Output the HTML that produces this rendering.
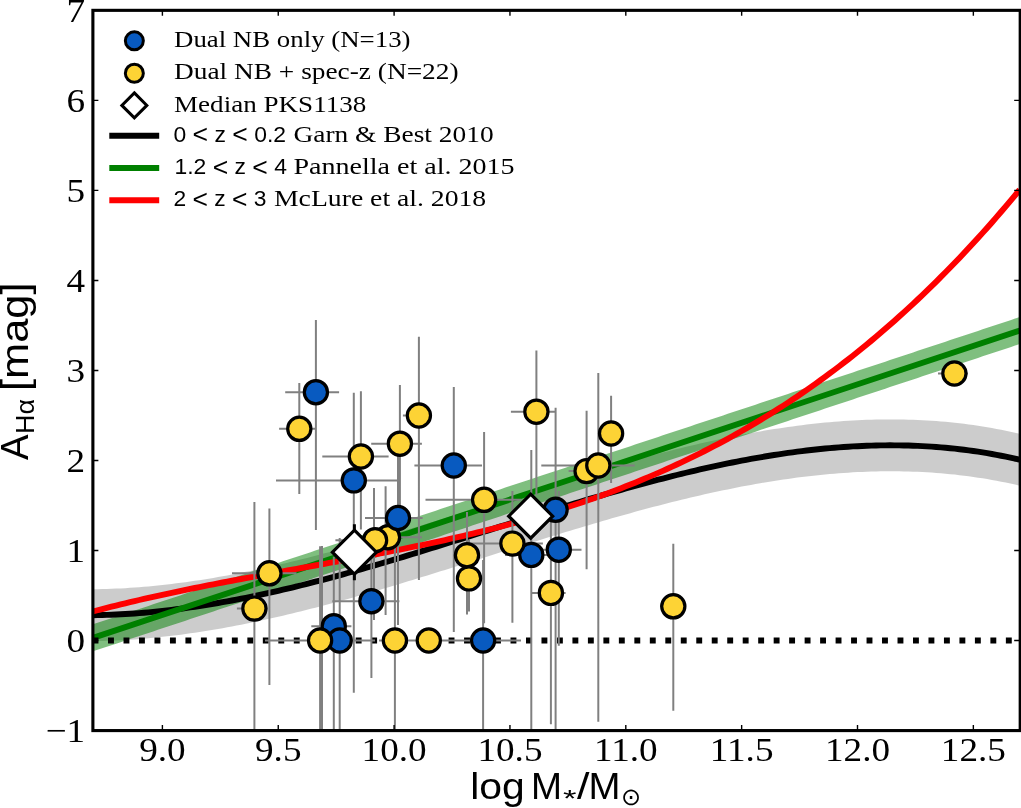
<!DOCTYPE html><html><head><meta charset="utf-8"><style>html,body{margin:0;padding:0;background:#fff;width:1021px;height:808px;overflow:hidden}svg{display:block;will-change:transform}</style></head><body><svg width="1021" height="808" viewBox="0 0 1021 808">
<defs><clipPath id="ax"><rect x="92.89" y="10.34" width="926.80" height="720.24"/></clipPath></defs>
<rect width="100%" height="100%" fill="#fff"/>
<g clip-path="url(#ax)">
<path d="M92.89,589.27 L97.52,589.20 L102.16,589.10 L106.79,588.97 L111.43,588.81 L116.06,588.61 L120.69,588.38 L125.33,588.13 L129.96,587.84 L134.60,587.52 L139.23,587.17 L143.86,586.80 L148.50,586.39 L153.13,585.95 L157.77,585.49 L162.40,585.00 L167.03,584.48 L171.67,583.94 L176.30,583.37 L180.94,582.77 L185.57,582.15 L190.20,581.50 L194.84,580.82 L199.47,580.13 L204.11,579.40 L208.74,578.66 L213.37,577.89 L218.01,577.09 L222.64,576.28 L227.28,575.44 L231.91,574.58 L236.54,573.70 L241.18,572.79 L245.81,571.87 L250.45,570.93 L255.08,569.96 L259.71,568.98 L264.35,567.98 L268.98,566.96 L273.62,565.92 L278.25,564.86 L282.88,563.78 L287.52,562.69 L292.15,561.58 L296.79,560.45 L301.42,559.31 L306.05,558.15 L310.69,556.98 L315.32,555.79 L319.96,554.59 L324.59,553.37 L329.22,552.14 L333.86,550.90 L338.49,549.64 L343.13,548.37 L347.76,547.09 L352.39,545.79 L357.03,544.49 L361.66,543.17 L366.30,541.85 L370.93,540.51 L375.56,539.16 L380.20,537.81 L384.83,536.44 L389.47,535.07 L394.10,533.68 L398.73,532.29 L403.37,530.90 L408.00,529.49 L412.64,528.08 L417.27,526.66 L421.90,525.24 L426.54,523.81 L431.17,522.37 L435.81,520.93 L440.44,519.49 L445.07,518.04 L449.71,516.59 L454.34,515.13 L458.98,513.68 L463.61,512.21 L468.24,510.75 L472.88,509.29 L477.51,507.82 L482.15,506.36 L486.78,504.89 L491.41,503.42 L496.05,501.96 L500.68,500.49 L505.32,499.02 L509.95,497.56 L514.58,496.10 L519.22,494.64 L523.85,493.18 L528.49,491.73 L533.12,490.28 L537.75,488.83 L542.39,487.39 L547.02,485.95 L551.66,484.51 L556.29,483.08 L560.92,481.66 L565.56,480.25 L570.19,478.84 L574.83,477.43 L579.46,476.04 L584.09,474.65 L588.73,473.27 L593.36,471.90 L598.00,470.53 L602.63,469.18 L607.26,467.83 L611.90,466.50 L616.53,465.18 L621.17,463.86 L625.80,462.56 L630.43,461.27 L635.07,459.99 L639.70,458.73 L644.34,457.47 L648.97,456.23 L653.60,455.00 L658.24,453.79 L662.87,452.59 L667.51,451.41 L672.14,450.24 L676.77,449.08 L681.41,447.95 L686.04,446.82 L690.68,445.72 L695.31,444.63 L699.94,443.56 L704.58,442.51 L709.21,441.47 L713.85,440.45 L718.48,439.46 L723.11,438.48 L727.75,437.52 L732.38,436.58 L737.02,435.66 L741.65,434.76 L746.28,433.89 L750.92,433.03 L755.55,432.20 L760.19,431.39 L764.82,430.60 L769.45,429.84 L774.09,429.10 L778.72,428.38 L783.36,427.69 L787.99,427.02 L792.62,426.38 L797.26,425.76 L801.89,425.17 L806.53,424.61 L811.16,424.07 L815.79,423.56 L820.43,423.08 L825.06,422.62 L829.70,422.19 L834.33,421.80 L838.96,421.43 L843.60,421.09 L848.23,420.78 L852.87,420.50 L857.50,420.25 L862.13,420.03 L866.77,419.84 L871.40,419.69 L876.04,419.56 L880.67,419.47 L885.30,419.41 L889.94,419.39 L894.57,419.40 L899.21,419.44 L903.84,419.52 L908.47,419.63 L913.11,419.78 L917.74,419.96 L922.38,420.18 L927.01,420.44 L931.64,420.73 L936.28,421.06 L940.91,421.43 L945.55,421.83 L950.18,422.28 L954.81,422.76 L959.45,423.28 L964.08,423.84 L968.72,424.44 L973.35,425.09 L977.98,425.77 L982.62,426.49 L987.25,427.26 L991.89,428.06 L996.52,428.91 L1001.15,429.80 L1005.79,430.74 L1010.42,431.71 L1015.06,432.74 L1019.69,433.80 L1019.69,485.66 L1015.06,484.59 L1010.42,483.57 L1005.79,482.59 L1001.15,481.66 L996.52,480.77 L991.89,479.92 L987.25,479.11 L982.62,478.35 L977.98,477.63 L973.35,476.94 L968.72,476.30 L964.08,475.70 L959.45,475.14 L954.81,474.62 L950.18,474.13 L945.55,473.69 L940.91,473.29 L936.28,472.92 L931.64,472.59 L927.01,472.30 L922.38,472.04 L917.74,471.82 L913.11,471.64 L908.47,471.49 L903.84,471.38 L899.21,471.30 L894.57,471.26 L889.94,471.25 L885.30,471.27 L880.67,471.33 L876.04,471.42 L871.40,471.54 L866.77,471.70 L862.13,471.89 L857.50,472.10 L852.87,472.35 L848.23,472.63 L843.60,472.94 L838.96,473.28 L834.33,473.65 L829.70,474.05 L825.06,474.48 L820.43,474.93 L815.79,475.42 L811.16,475.93 L806.53,476.47 L801.89,477.03 L797.26,477.62 L792.62,478.24 L787.99,478.88 L783.36,479.55 L778.72,480.24 L774.09,480.96 L769.45,481.70 L764.82,482.46 L760.19,483.25 L755.55,484.06 L750.92,484.89 L746.28,485.75 L741.65,486.62 L737.02,487.52 L732.38,488.44 L727.75,489.38 L723.11,490.33 L718.48,491.31 L713.85,492.31 L709.21,493.33 L704.58,494.36 L699.94,495.42 L695.31,496.49 L690.68,497.58 L686.04,498.68 L681.41,499.80 L676.77,500.94 L672.14,502.09 L667.51,503.26 L662.87,504.45 L658.24,505.65 L653.60,506.86 L648.97,508.09 L644.34,509.33 L639.70,510.58 L635.07,511.85 L630.43,513.13 L625.80,514.42 L621.17,515.72 L616.53,517.03 L611.90,518.36 L607.26,519.69 L602.63,521.04 L598.00,522.39 L593.36,523.75 L588.73,525.13 L584.09,526.51 L579.46,527.89 L574.83,529.29 L570.19,530.69 L565.56,532.10 L560.92,533.52 L556.29,534.94 L551.66,536.37 L547.02,537.80 L542.39,539.24 L537.75,540.69 L533.12,542.13 L528.49,543.58 L523.85,545.04 L519.22,546.50 L514.58,547.96 L509.95,549.42 L505.32,550.88 L500.68,552.35 L496.05,553.81 L491.41,555.28 L486.78,556.75 L482.15,558.21 L477.51,559.68 L472.88,561.15 L468.24,562.61 L463.61,564.07 L458.98,565.53 L454.34,566.99 L449.71,568.45 L445.07,569.90 L440.44,571.35 L435.81,572.79 L431.17,574.23 L426.54,575.66 L421.90,577.09 L417.27,578.52 L412.64,579.94 L408.00,581.35 L403.37,582.75 L398.73,584.15 L394.10,585.54 L389.47,586.92 L384.83,588.30 L380.20,589.66 L375.56,591.02 L370.93,592.37 L366.30,593.70 L361.66,595.03 L357.03,596.35 L352.39,597.65 L347.76,598.95 L343.13,600.23 L338.49,601.50 L333.86,602.75 L329.22,604.00 L324.59,605.23 L319.96,606.45 L315.32,607.65 L310.69,608.84 L306.05,610.01 L301.42,611.17 L296.79,612.31 L292.15,613.44 L287.52,614.55 L282.88,615.64 L278.25,616.71 L273.62,617.77 L268.98,618.81 L264.35,619.83 L259.71,620.84 L255.08,621.82 L250.45,622.78 L245.81,623.73 L241.18,624.65 L236.54,625.55 L231.91,626.44 L227.28,627.30 L222.64,628.13 L218.01,628.95 L213.37,629.74 L208.74,630.51 L204.11,631.26 L199.47,631.98 L194.84,632.68 L190.20,633.36 L185.57,634.00 L180.94,634.63 L176.30,635.22 L171.67,635.80 L167.03,636.34 L162.40,636.86 L157.77,637.35 L153.13,637.81 L148.50,638.25 L143.86,638.65 L139.23,639.03 L134.60,639.38 L129.96,639.70 L125.33,639.98 L120.69,640.24 L116.06,640.47 L111.43,640.66 L106.79,640.83 L102.16,640.96 L97.52,641.06 L92.89,641.12 Z" fill="#808080" fill-opacity="0.4"/>
<path d="M92.89,624.34 L97.52,622.81 L102.16,621.27 L106.79,619.74 L111.43,618.20 L116.06,616.66 L120.69,615.13 L125.33,613.59 L129.96,612.05 L134.60,610.52 L139.23,608.98 L143.86,607.44 L148.50,605.91 L153.13,604.37 L157.77,602.84 L162.40,601.30 L167.03,599.76 L171.67,598.23 L176.30,596.69 L180.94,595.15 L185.57,593.62 L190.20,592.08 L194.84,590.54 L199.47,589.01 L204.11,587.47 L208.74,585.94 L213.37,584.40 L218.01,582.86 L222.64,581.33 L227.28,579.79 L231.91,578.25 L236.54,576.72 L241.18,575.18 L245.81,573.64 L250.45,572.11 L255.08,570.57 L259.71,569.04 L264.35,567.50 L268.98,565.96 L273.62,564.43 L278.25,562.89 L282.88,561.35 L287.52,559.82 L292.15,558.28 L296.79,556.74 L301.42,555.21 L306.05,553.67 L310.69,552.14 L315.32,550.60 L319.96,549.06 L324.59,547.53 L329.22,545.99 L333.86,544.45 L338.49,542.92 L343.13,541.38 L347.76,539.84 L352.39,538.31 L357.03,536.77 L361.66,535.24 L366.30,533.70 L370.93,532.16 L375.56,530.63 L380.20,529.09 L384.83,527.55 L389.47,526.02 L394.10,524.48 L398.73,522.94 L403.37,521.41 L408.00,519.87 L412.64,518.34 L417.27,516.80 L421.90,515.26 L426.54,513.73 L431.17,512.19 L435.81,510.65 L440.44,509.12 L445.07,507.58 L449.71,506.04 L454.34,504.51 L458.98,502.97 L463.61,501.44 L468.24,499.90 L472.88,498.36 L477.51,496.83 L482.15,495.29 L486.78,493.75 L491.41,492.22 L496.05,490.68 L500.68,489.14 L505.32,487.61 L509.95,486.07 L514.58,484.54 L519.22,483.00 L523.85,481.46 L528.49,479.93 L533.12,478.39 L537.75,476.85 L542.39,475.32 L547.02,473.78 L551.66,472.24 L556.29,470.71 L560.92,469.17 L565.56,467.64 L570.19,466.10 L574.83,464.56 L579.46,463.03 L584.09,461.49 L588.73,459.95 L593.36,458.42 L598.00,456.88 L602.63,455.34 L607.26,453.81 L611.90,452.27 L616.53,450.74 L621.17,449.20 L625.80,447.66 L630.43,446.13 L635.07,444.59 L639.70,443.05 L644.34,441.52 L648.97,439.98 L653.60,438.44 L658.24,436.91 L662.87,435.37 L667.51,433.84 L672.14,432.30 L676.77,430.76 L681.41,429.23 L686.04,427.69 L690.68,426.15 L695.31,424.62 L699.94,423.08 L704.58,421.54 L709.21,420.01 L713.85,418.47 L718.48,416.94 L723.11,415.40 L727.75,413.86 L732.38,412.33 L737.02,410.79 L741.65,409.25 L746.28,407.72 L750.92,406.18 L755.55,404.64 L760.19,403.11 L764.82,401.57 L769.45,400.04 L774.09,398.50 L778.72,396.96 L783.36,395.43 L787.99,393.89 L792.62,392.35 L797.26,390.82 L801.89,389.28 L806.53,387.74 L811.16,386.21 L815.79,384.67 L820.43,383.14 L825.06,381.60 L829.70,380.06 L834.33,378.53 L838.96,376.99 L843.60,375.45 L848.23,373.92 L852.87,372.38 L857.50,370.84 L862.13,369.31 L866.77,367.77 L871.40,366.24 L876.04,364.70 L880.67,363.16 L885.30,361.63 L889.94,360.09 L894.57,358.55 L899.21,357.02 L903.84,355.48 L908.47,353.94 L913.11,352.41 L917.74,350.87 L922.38,349.34 L927.01,347.80 L931.64,346.26 L936.28,344.73 L940.91,343.19 L945.55,341.65 L950.18,340.12 L954.81,338.58 L959.45,337.04 L964.08,335.51 L968.72,333.97 L973.35,332.44 L977.98,330.90 L982.62,329.36 L987.25,327.83 L991.89,326.29 L996.52,324.75 L1001.15,323.22 L1005.79,321.68 L1010.42,320.14 L1015.06,318.61 L1019.69,317.07 L1019.69,344.08 L1015.06,345.62 L1010.42,347.15 L1005.79,348.69 L1001.15,350.23 L996.52,351.76 L991.89,353.30 L987.25,354.84 L982.62,356.37 L977.98,357.91 L973.35,359.44 L968.72,360.98 L964.08,362.52 L959.45,364.05 L954.81,365.59 L950.18,367.13 L945.55,368.66 L940.91,370.20 L936.28,371.74 L931.64,373.27 L927.01,374.81 L922.38,376.34 L917.74,377.88 L913.11,379.42 L908.47,380.95 L903.84,382.49 L899.21,384.03 L894.57,385.56 L889.94,387.10 L885.30,388.64 L880.67,390.17 L876.04,391.71 L871.40,393.24 L866.77,394.78 L862.13,396.32 L857.50,397.85 L852.87,399.39 L848.23,400.93 L843.60,402.46 L838.96,404.00 L834.33,405.54 L829.70,407.07 L825.06,408.61 L820.43,410.14 L815.79,411.68 L811.16,413.22 L806.53,414.75 L801.89,416.29 L797.26,417.83 L792.62,419.36 L787.99,420.90 L783.36,422.44 L778.72,423.97 L774.09,425.51 L769.45,427.04 L764.82,428.58 L760.19,430.12 L755.55,431.65 L750.92,433.19 L746.28,434.73 L741.65,436.26 L737.02,437.80 L732.38,439.34 L727.75,440.87 L723.11,442.41 L718.48,443.94 L713.85,445.48 L709.21,447.02 L704.58,448.55 L699.94,450.09 L695.31,451.63 L690.68,453.16 L686.04,454.70 L681.41,456.24 L676.77,457.77 L672.14,459.31 L667.51,460.84 L662.87,462.38 L658.24,463.92 L653.60,465.45 L648.97,466.99 L644.34,468.53 L639.70,470.06 L635.07,471.60 L630.43,473.14 L625.80,474.67 L621.17,476.21 L616.53,477.74 L611.90,479.28 L607.26,480.82 L602.63,482.35 L598.00,483.89 L593.36,485.43 L588.73,486.96 L584.09,488.50 L579.46,490.04 L574.83,491.57 L570.19,493.11 L565.56,494.64 L560.92,496.18 L556.29,497.72 L551.66,499.25 L547.02,500.79 L542.39,502.33 L537.75,503.86 L533.12,505.40 L528.49,506.94 L523.85,508.47 L519.22,510.01 L514.58,511.54 L509.95,513.08 L505.32,514.62 L500.68,516.15 L496.05,517.69 L491.41,519.23 L486.78,520.76 L482.15,522.30 L477.51,523.84 L472.88,525.37 L468.24,526.91 L463.61,528.44 L458.98,529.98 L454.34,531.52 L449.71,533.05 L445.07,534.59 L440.44,536.13 L435.81,537.66 L431.17,539.20 L426.54,540.74 L421.90,542.27 L417.27,543.81 L412.64,545.34 L408.00,546.88 L403.37,548.42 L398.73,549.95 L394.10,551.49 L389.47,553.03 L384.83,554.56 L380.20,556.10 L375.56,557.64 L370.93,559.17 L366.30,560.71 L361.66,562.24 L357.03,563.78 L352.39,565.32 L347.76,566.85 L343.13,568.39 L338.49,569.93 L333.86,571.46 L329.22,573.00 L324.59,574.54 L319.96,576.07 L315.32,577.61 L310.69,579.14 L306.05,580.68 L301.42,582.22 L296.79,583.75 L292.15,585.29 L287.52,586.83 L282.88,588.36 L278.25,589.90 L273.62,591.44 L268.98,592.97 L264.35,594.51 L259.71,596.04 L255.08,597.58 L250.45,599.12 L245.81,600.65 L241.18,602.19 L236.54,603.73 L231.91,605.26 L227.28,606.80 L222.64,608.34 L218.01,609.87 L213.37,611.41 L208.74,612.94 L204.11,614.48 L199.47,616.02 L194.84,617.55 L190.20,619.09 L185.57,620.63 L180.94,622.16 L176.30,623.70 L171.67,625.24 L167.03,626.77 L162.40,628.31 L157.77,629.84 L153.13,631.38 L148.50,632.92 L143.86,634.45 L139.23,635.99 L134.60,637.53 L129.96,639.06 L125.33,640.60 L120.69,642.14 L116.06,643.67 L111.43,645.21 L106.79,646.74 L102.16,648.28 L97.52,649.82 L92.89,651.35 Z" fill="#008000" fill-opacity="0.5"/>
<path d="M92.89,615.19 L97.52,615.13 L102.16,615.03 L106.79,614.90 L111.43,614.73 L116.06,614.54 L120.69,614.31 L125.33,614.05 L129.96,613.77 L134.60,613.45 L139.23,613.10 L143.86,612.72 L148.50,612.32 L153.13,611.88 L157.77,611.42 L162.40,610.93 L167.03,610.41 L171.67,609.87 L176.30,609.30 L180.94,608.70 L185.57,608.08 L190.20,607.43 L194.84,606.75 L199.47,606.05 L204.11,605.33 L208.74,604.58 L213.37,603.81 L218.01,603.02 L222.64,602.21 L227.28,601.37 L231.91,600.51 L236.54,599.63 L241.18,598.72 L245.81,597.80 L250.45,596.86 L255.08,595.89 L259.71,594.91 L264.35,593.91 L268.98,592.88 L273.62,591.84 L278.25,590.79 L282.88,589.71 L287.52,588.62 L292.15,587.51 L296.79,586.38 L301.42,585.24 L306.05,584.08 L310.69,582.91 L315.32,581.72 L319.96,580.52 L324.59,579.30 L329.22,578.07 L333.86,576.83 L338.49,575.57 L343.13,574.30 L347.76,573.02 L352.39,571.72 L357.03,570.42 L361.66,569.10 L366.30,567.78 L370.93,566.44 L375.56,565.09 L380.20,563.74 L384.83,562.37 L389.47,561.00 L394.10,559.61 L398.73,558.22 L403.37,556.82 L408.00,555.42 L412.64,554.01 L417.27,552.59 L421.90,551.17 L426.54,549.74 L431.17,548.30 L435.81,546.86 L440.44,545.42 L445.07,543.97 L449.71,542.52 L454.34,541.06 L458.98,539.60 L463.61,538.14 L468.24,536.68 L472.88,535.22 L477.51,533.75 L482.15,532.28 L486.78,530.82 L491.41,529.35 L496.05,527.88 L500.68,526.42 L505.32,524.95 L509.95,523.49 L514.58,522.03 L519.22,520.57 L523.85,519.11 L528.49,517.66 L533.12,516.20 L537.75,514.76 L542.39,513.31 L547.02,511.88 L551.66,510.44 L556.29,509.01 L560.92,507.59 L565.56,506.17 L570.19,504.76 L574.83,503.36 L579.46,501.97 L584.09,500.58 L588.73,499.20 L593.36,497.82 L598.00,496.46 L602.63,495.11 L607.26,493.76 L611.90,492.43 L616.53,491.10 L621.17,489.79 L625.80,488.49 L630.43,487.20 L635.07,485.92 L639.70,484.65 L644.34,483.40 L648.97,482.16 L653.60,480.93 L658.24,479.72 L662.87,478.52 L667.51,477.34 L672.14,476.17 L676.77,475.01 L681.41,473.87 L686.04,472.75 L690.68,471.65 L695.31,470.56 L699.94,469.49 L704.58,468.43 L709.21,467.40 L713.85,466.38 L718.48,465.38 L723.11,464.41 L727.75,463.45 L732.38,462.51 L737.02,461.59 L741.65,460.69 L746.28,459.82 L750.92,458.96 L755.55,458.13 L760.19,457.32 L764.82,456.53 L769.45,455.77 L774.09,455.03 L778.72,454.31 L783.36,453.62 L787.99,452.95 L792.62,452.31 L797.26,451.69 L801.89,451.10 L806.53,450.54 L811.16,450.00 L815.79,449.49 L820.43,449.01 L825.06,448.55 L829.70,448.12 L834.33,447.72 L838.96,447.36 L843.60,447.02 L848.23,446.70 L852.87,446.42 L857.50,446.18 L862.13,445.96 L866.77,445.77 L871.40,445.61 L876.04,445.49 L880.67,445.40 L885.30,445.34 L889.94,445.32 L894.57,445.33 L899.21,445.37 L903.84,445.45 L908.47,445.56 L913.11,445.71 L917.74,445.89 L922.38,446.11 L927.01,446.37 L931.64,446.66 L936.28,446.99 L940.91,447.36 L945.55,447.76 L950.18,448.21 L954.81,448.69 L959.45,449.21 L964.08,449.77 L968.72,450.37 L973.35,451.01 L977.98,451.70 L982.62,452.42 L987.25,453.18 L991.89,453.99 L996.52,454.84 L1001.15,455.73 L1005.79,456.67 L1010.42,457.64 L1015.06,458.67 L1019.69,459.73" fill="none" stroke="#000" stroke-width="5.9"/>
<path d="M92.89,637.85 L556.29,484.21 L1019.69,330.58" fill="none" stroke="#008000" stroke-width="5.9"/>
<path d="M92.89,611.50 L97.52,610.27 L102.16,609.07 L106.79,607.88 L111.43,606.71 L116.06,605.55 L120.69,604.41 L125.33,603.29 L129.96,602.18 L134.60,601.08 L139.23,600.00 L143.86,598.94 L148.50,597.88 L153.13,596.84 L157.77,595.81 L162.40,594.80 L167.03,593.79 L171.67,592.80 L176.30,591.82 L180.94,590.85 L185.57,589.88 L190.20,588.93 L194.84,587.99 L199.47,587.06 L204.11,586.13 L208.74,585.22 L213.37,584.31 L218.01,583.41 L222.64,582.51 L227.28,581.63 L231.91,580.74 L236.54,579.87 L241.18,579.00 L245.81,578.13 L250.45,577.27 L255.08,576.42 L259.71,575.56 L264.35,574.71 L268.98,573.87 L273.62,573.02 L278.25,572.18 L282.88,571.34 L287.52,570.50 L292.15,569.67 L296.79,568.83 L301.42,568.00 L306.05,567.16 L310.69,566.32 L315.32,565.48 L319.96,564.64 L324.59,563.80 L329.22,562.96 L333.86,562.11 L338.49,561.27 L343.13,560.41 L347.76,559.56 L352.39,558.70 L357.03,557.83 L361.66,556.96 L366.30,556.09 L370.93,555.21 L375.56,554.32 L380.20,553.43 L384.83,552.53 L389.47,551.62 L394.10,550.71 L398.73,549.78 L403.37,548.85 L408.00,547.91 L412.64,546.96 L417.27,546.00 L421.90,545.03 L426.54,544.05 L431.17,543.06 L435.81,542.06 L440.44,541.05 L445.07,540.02 L449.71,538.98 L454.34,537.93 L458.98,536.86 L463.61,535.79 L468.24,534.69 L472.88,533.59 L477.51,532.46 L482.15,531.33 L486.78,530.17 L491.41,529.01 L496.05,527.82 L500.68,526.62 L505.32,525.40 L509.95,524.16 L514.58,522.91 L519.22,521.63 L523.85,520.34 L528.49,519.03 L533.12,517.70 L537.75,516.35 L542.39,514.97 L547.02,513.58 L551.66,512.17 L556.29,510.73 L560.92,509.28 L565.56,507.80 L570.19,506.29 L574.83,504.77 L579.46,503.22 L584.09,501.64 L588.73,500.05 L593.36,498.42 L598.00,496.77 L602.63,495.10 L607.26,493.40 L611.90,491.68 L616.53,489.92 L621.17,488.14 L625.80,486.34 L630.43,484.50 L635.07,482.64 L639.70,480.74 L644.34,478.82 L648.97,476.87 L653.60,474.89 L658.24,472.88 L662.87,470.84 L667.51,468.76 L672.14,466.66 L676.77,464.52 L681.41,462.35 L686.04,460.15 L690.68,457.91 L695.31,455.64 L699.94,453.34 L704.58,451.00 L709.21,448.63 L713.85,446.22 L718.48,443.78 L723.11,441.30 L727.75,438.79 L732.38,436.24 L737.02,433.65 L741.65,431.02 L746.28,428.36 L750.92,425.65 L755.55,422.91 L760.19,420.13 L764.82,417.31 L769.45,414.45 L774.09,411.55 L778.72,408.61 L783.36,405.63 L787.99,402.61 L792.62,399.54 L797.26,396.43 L801.89,393.28 L806.53,390.09 L811.16,386.85 L815.79,383.57 L820.43,380.25 L825.06,376.88 L829.70,373.46 L834.33,370.00 L838.96,366.50 L843.60,362.95 L848.23,359.35 L852.87,355.70 L857.50,352.01 L862.13,348.27 L866.77,344.48 L871.40,340.64 L876.04,336.75 L880.67,332.81 L885.30,328.83 L889.94,324.79 L894.57,320.70 L899.21,316.57 L903.84,312.38 L908.47,308.13 L913.11,303.84 L917.74,299.49 L922.38,295.09 L927.01,290.64 L931.64,286.13 L936.28,281.57 L940.91,276.96 L945.55,272.29 L950.18,267.56 L954.81,262.78 L959.45,257.94 L964.08,253.05 L968.72,248.09 L973.35,243.09 L977.98,238.02 L982.62,232.89 L987.25,227.71 L991.89,222.47 L996.52,217.17 L1001.15,211.80 L1005.79,206.38 L1010.42,200.90 L1015.06,195.36 L1019.69,189.75" fill="none" stroke="#ff0000" stroke-width="5.9"/>
<line x1="92.55" y1="640.55" x2="1019.69" y2="640.55" stroke="#000" stroke-width="5.9" stroke-dasharray="5.9 9.58"/>
<path d="M315.9,319.9V530.0M285.2,392.2H339.1M353.8,392.8V692.8M276.0,480.4H397.0M453.8,386.9V632.0M414.4,465.5H482.0M333.8,556.7V731.0M311.3,626.2H351.4M339.7,538.0V731.0M320.0,640.5H360.0M371.4,559.0V678.0M332.3,601.2H399.4M398.0,455.0V625.0M365.0,518.0H422.6M483.1,560.0V731.0M442.0,640.5H521.0M555.6,407.7V731.0M545.0,509.8H566.0M531.3,450.0V731.0M505.0,554.9H555.0M558.8,491.0V645.8M536.0,549.7H581.5M299.3,382.9V494.0M279.1,428.8H315.3M360.9,391.2V529.5M322.3,456.5H388.6M399.9,384.9V520.0M371.2,443.7H421.9M418.9,336.7V580.0M402.9,415.5H431.0M536.4,350.5V495.0M510.9,411.7H556.0M484.1,431.9V623.3M425.5,499.8H521.0M586.6,410.7V569.3M568.6,471.1H605.0M598.3,372.9V721.8M541.3,465.5H634.7M611.1,395.8V483.0M600.0,433.5H622.0M467.0,512.0V614.5M460.0,555.2H474.0M469.0,540.0V611.5M462.0,578.4H476.0M512.4,490.9V622.8M469.6,543.6H542.9M550.9,521.0V724.2M532.0,592.9H565.6M673.3,543.7V710.8M660.0,606.3H686.0M954.4,365.0V382.0M938.0,373.5H968.0M269.4,508.5V685.0M232.0,573.3H296.5M254.4,502.1V731.0M236.9,608.6H267.5M320.1,546.2V731.0M265.0,640.5H375.0M394.9,546.8V731.0M379.0,640.5H418.0M428.8,640.5V640.5M407.0,640.5H450.0M388.0,537.0V537.0M360.0,537.2H422.0M375.1,539.0V539.0M335.4,540.2H400.0M374.0,488.0V620.0M385.6,486.2V615.0M322.0,546.0V731.0" stroke="#808080" stroke-width="2" fill="none"/>
<circle cx="315.9" cy="392.2" r="11.6" fill="#085ac0" stroke="#000" stroke-width="3.2"/>
<circle cx="353.8" cy="480.4" r="11.6" fill="#085ac0" stroke="#000" stroke-width="3.2"/>
<circle cx="453.8" cy="465.5" r="11.6" fill="#085ac0" stroke="#000" stroke-width="3.2"/>
<circle cx="333.8" cy="626.2" r="11.6" fill="#085ac0" stroke="#000" stroke-width="3.2"/>
<circle cx="339.7" cy="640.5" r="11.6" fill="#085ac0" stroke="#000" stroke-width="3.2"/>
<circle cx="371.4" cy="601.2" r="11.6" fill="#085ac0" stroke="#000" stroke-width="3.2"/>
<circle cx="483.1" cy="640.5" r="11.6" fill="#085ac0" stroke="#000" stroke-width="3.2"/>
<circle cx="555.6" cy="509.8" r="11.6" fill="#085ac0" stroke="#000" stroke-width="3.2"/>
<circle cx="531.3" cy="554.9" r="11.6" fill="#085ac0" stroke="#000" stroke-width="3.2"/>
<circle cx="558.8" cy="549.7" r="11.6" fill="#085ac0" stroke="#000" stroke-width="3.2"/>
<circle cx="299.3" cy="428.8" r="11.6" fill="#fdd335" stroke="#000" stroke-width="3.2"/>
<circle cx="360.9" cy="456.5" r="11.6" fill="#fdd335" stroke="#000" stroke-width="3.2"/>
<circle cx="399.9" cy="443.7" r="11.6" fill="#fdd335" stroke="#000" stroke-width="3.2"/>
<circle cx="418.9" cy="415.5" r="11.6" fill="#fdd335" stroke="#000" stroke-width="3.2"/>
<circle cx="536.4" cy="411.7" r="11.6" fill="#fdd335" stroke="#000" stroke-width="3.2"/>
<circle cx="484.1" cy="499.8" r="11.6" fill="#fdd335" stroke="#000" stroke-width="3.2"/>
<circle cx="586.6" cy="471.1" r="11.6" fill="#fdd335" stroke="#000" stroke-width="3.2"/>
<circle cx="598.3" cy="465.5" r="11.6" fill="#fdd335" stroke="#000" stroke-width="3.2"/>
<circle cx="611.1" cy="433.5" r="11.6" fill="#fdd335" stroke="#000" stroke-width="3.2"/>
<circle cx="467.0" cy="555.2" r="11.6" fill="#fdd335" stroke="#000" stroke-width="3.2"/>
<circle cx="469.0" cy="578.4" r="11.6" fill="#fdd335" stroke="#000" stroke-width="3.2"/>
<circle cx="512.4" cy="543.6" r="11.6" fill="#fdd335" stroke="#000" stroke-width="3.2"/>
<circle cx="550.9" cy="592.9" r="11.6" fill="#fdd335" stroke="#000" stroke-width="3.2"/>
<circle cx="673.3" cy="606.3" r="11.6" fill="#fdd335" stroke="#000" stroke-width="3.2"/>
<circle cx="954.4" cy="373.5" r="11.6" fill="#fdd335" stroke="#000" stroke-width="3.2"/>
<circle cx="269.4" cy="573.3" r="11.6" fill="#fdd335" stroke="#000" stroke-width="3.2"/>
<circle cx="254.4" cy="608.6" r="11.6" fill="#fdd335" stroke="#000" stroke-width="3.2"/>
<circle cx="320.1" cy="640.5" r="11.6" fill="#fdd335" stroke="#000" stroke-width="3.2"/>
<circle cx="394.9" cy="640.5" r="11.6" fill="#fdd335" stroke="#000" stroke-width="3.2"/>
<circle cx="428.8" cy="640.5" r="11.6" fill="#fdd335" stroke="#000" stroke-width="3.2"/>
<circle cx="388.0" cy="537.2" r="11.6" fill="#fdd335" stroke="#000" stroke-width="3.2"/>
<circle cx="375.1" cy="540.2" r="11.6" fill="#fdd335" stroke="#000" stroke-width="3.2"/>
<circle cx="398.0" cy="518.0" r="11.6" fill="#085ac0" stroke="#000" stroke-width="3.2"/>
<path d="M354.4,524.2V580.2" stroke="#000" stroke-width="3"/>
<path d="M354.4,530.2 L376.4,552.2 L354.4,574.2 L332.4,552.2 Z" fill="#fff" stroke="#000" stroke-width="3.2" stroke-linejoin="miter"/>
<path d="M530.7,494.20000000000005 L552.7,516.2 L530.7,538.2 L508.70000000000005,516.2 Z" fill="#fff" stroke="#000" stroke-width="3.2" stroke-linejoin="miter"/>
</g>
<rect x="92.89" y="10.34" width="927.30" height="720.24" fill="none" stroke="#000" stroke-width="3.1"/>
<path d="M92.89,730.58h5.5M1019.69,730.58h-5.5M92.89,640.55h5.5M1019.69,640.55h-5.5M92.89,550.52h5.5M1019.69,550.52h-5.5M92.89,460.49h5.5M1019.69,460.49h-5.5M92.89,370.46h5.5M1019.69,370.46h-5.5M92.89,280.43h5.5M1019.69,280.43h-5.5M92.89,190.40h5.5M1019.69,190.40h-5.5M92.89,100.37h5.5M1019.69,100.37h-5.5M92.89,10.34h5.5M1019.69,10.34h-5.5M162.40,730.58v-5.5M162.40,10.34v5.5M278.25,730.58v-5.5M278.25,10.34v5.5M394.10,730.58v-5.5M394.10,10.34v5.5M509.95,730.58v-5.5M509.95,10.34v5.5M625.80,730.58v-5.5M625.80,10.34v5.5M741.65,730.58v-5.5M741.65,10.34v5.5M857.50,730.58v-5.5M857.50,10.34v5.5M973.35,730.58v-5.5M973.35,10.34v5.5" stroke="#000" stroke-width="1.4"/>
<g transform="translate(85.0,741.78) scale(1.1,1)"><text x="0.00" y="0.00" font-family="Liberation Serif" font-size="33.8" text-anchor="end">−1</text></g>
<g transform="translate(85.0,651.75) scale(1.1,1)"><text x="0.00" y="0.00" font-family="Liberation Serif" font-size="33.8" text-anchor="end">0</text></g>
<g transform="translate(85.0,561.72) scale(1.1,1)"><text x="0.00" y="0.00" font-family="Liberation Serif" font-size="33.8" text-anchor="end">1</text></g>
<g transform="translate(85.0,471.69) scale(1.1,1)"><text x="0.00" y="0.00" font-family="Liberation Serif" font-size="33.8" text-anchor="end">2</text></g>
<g transform="translate(85.0,381.66) scale(1.1,1)"><text x="0.00" y="0.00" font-family="Liberation Serif" font-size="33.8" text-anchor="end">3</text></g>
<g transform="translate(85.0,291.63) scale(1.1,1)"><text x="0.00" y="0.00" font-family="Liberation Serif" font-size="33.8" text-anchor="end">4</text></g>
<g transform="translate(85.0,201.60) scale(1.1,1)"><text x="0.00" y="0.00" font-family="Liberation Serif" font-size="33.8" text-anchor="end">5</text></g>
<g transform="translate(85.0,111.57) scale(1.1,1)"><text x="0.00" y="0.00" font-family="Liberation Serif" font-size="33.8" text-anchor="end">6</text></g>
<g transform="translate(85.0,21.54) scale(1.1,1)"><text x="0.00" y="0.00" font-family="Liberation Serif" font-size="33.8" text-anchor="end">7</text></g>
<g transform="translate(162.40,761.2) scale(1.1,1)"><text x="0.00" y="0.00" font-family="Liberation Serif" font-size="33.8" text-anchor="middle">9.0</text></g>
<g transform="translate(278.25,761.2) scale(1.1,1)"><text x="0.00" y="0.00" font-family="Liberation Serif" font-size="33.8" text-anchor="middle">9.5</text></g>
<g transform="translate(394.10,761.2) scale(1.1,1)"><text x="0.00" y="0.00" font-family="Liberation Serif" font-size="33.8" text-anchor="middle">10.0</text></g>
<g transform="translate(509.95,761.2) scale(1.1,1)"><text x="0.00" y="0.00" font-family="Liberation Serif" font-size="33.8" text-anchor="middle">10.5</text></g>
<g transform="translate(625.80,761.2) scale(1.1,1)"><text x="0.00" y="0.00" font-family="Liberation Serif" font-size="33.8" text-anchor="middle">11.0</text></g>
<g transform="translate(741.65,761.2) scale(1.1,1)"><text x="0.00" y="0.00" font-family="Liberation Serif" font-size="33.8" text-anchor="middle">11.5</text></g>
<g transform="translate(857.50,761.2) scale(1.1,1)"><text x="0.00" y="0.00" font-family="Liberation Serif" font-size="33.8" text-anchor="middle">12.0</text></g>
<g transform="translate(973.35,761.2) scale(1.1,1)"><text x="0.00" y="0.00" font-family="Liberation Serif" font-size="33.8" text-anchor="middle">12.5</text></g>
<text x="470.30" y="799.20" font-family="Liberation Sans" font-size="36" text-anchor="start" textLength="54.50" lengthAdjust="spacingAndGlyphs">log</text>
<text x="531.00" y="799.20" font-family="Liberation Sans" font-size="36" text-anchor="start" textLength="31.00" lengthAdjust="spacingAndGlyphs">M</text>
<text x="563.00" y="806.50" font-family="Liberation Sans" font-size="24" text-anchor="start" textLength="13.50" lengthAdjust="spacingAndGlyphs">*</text>
<text x="577.00" y="799.20" font-family="Liberation Sans" font-size="36" text-anchor="start" textLength="12.50" lengthAdjust="spacingAndGlyphs">/</text>
<text x="588.50" y="799.20" font-family="Liberation Sans" font-size="36" text-anchor="start" textLength="32.00" lengthAdjust="spacingAndGlyphs">M</text>
<text x="621.00" y="805.00" font-family="Liberation Sans" font-size="24" text-anchor="start" textLength="20.00" lengthAdjust="spacingAndGlyphs">⊙</text>
<g transform="rotate(-90)">
<text x="-460.00" y="27.90" font-family="Liberation Sans" font-size="38" text-anchor="start" textLength="25.50" lengthAdjust="spacingAndGlyphs">A</text>
<text x="-434.00" y="33.60" font-family="Liberation Sans" font-size="26" text-anchor="start" textLength="35.00" lengthAdjust="spacingAndGlyphs">Hα</text>
<text x="-391.00" y="27.60" font-family="Liberation Sans" font-size="38" text-anchor="start" textLength="108.50" lengthAdjust="spacingAndGlyphs">[mag]</text>
</g>
<circle cx="134.35" cy="40.8" r="9.0" fill="#085ac0" stroke="#000" stroke-width="3"/>
<circle cx="134.35" cy="73.25" r="9.0" fill="#fdd335" stroke="#000" stroke-width="3"/>
<path d="M134.35,92.9 L146.85,105.4 L134.35,117.9 L121.85,105.4 Z" fill="#fff" stroke="#000" stroke-width="3"/>
<line x1="109.3" y1="135.7" x2="159.2" y2="135.7" stroke="#000" stroke-width="6"/>
<line x1="109.3" y1="168.0" x2="159.2" y2="168.0" stroke="#008000" stroke-width="6"/>
<line x1="109.3" y1="200.2" x2="159.2" y2="200.2" stroke="#ff0000" stroke-width="6"/>
<text x="174.00" y="46.60" font-family="Liberation Serif" font-size="23.6" text-anchor="start" textLength="236.50" lengthAdjust="spacingAndGlyphs">Dual NB only (N=13)</text>
<text x="174.00" y="79.20" font-family="Liberation Serif" font-size="23.6" text-anchor="start" textLength="284.60" lengthAdjust="spacingAndGlyphs">Dual NB + spec-z (N=22)</text>
<text x="174.00" y="111.60" font-family="Liberation Serif" font-size="23.6" text-anchor="start" textLength="192.30" lengthAdjust="spacingAndGlyphs">Median PKS1138</text>
<text x="173.50" y="141.80" font-family="Liberation Sans" font-size="22" text-anchor="start" textLength="112.50" lengthAdjust="spacingAndGlyphs">0 <tspan font-size="25.5" dy="1.6">&lt;</tspan><tspan dy="-1.6"> z </tspan><tspan font-size="25.5" dy="1.6">&lt;</tspan><tspan dy="-1.6"> 0.2</tspan></text>
<text x="293.50" y="141.80" font-family="Liberation Serif" font-size="23.6" text-anchor="start" textLength="200.10" lengthAdjust="spacingAndGlyphs">Garn &amp; Best 2010</text>
<text x="174.50" y="174.00" font-family="Liberation Sans" font-size="22" text-anchor="start" textLength="112.50" lengthAdjust="spacingAndGlyphs">1.2 <tspan font-size="25.5" dy="1.6">&lt;</tspan><tspan dy="-1.6"> z </tspan><tspan font-size="25.5" dy="1.6">&lt;</tspan><tspan dy="-1.6"> 4</tspan></text>
<text x="293.50" y="174.00" font-family="Liberation Serif" font-size="23.6" text-anchor="start" textLength="221.10" lengthAdjust="spacingAndGlyphs">Pannella et al. 2015</text>
<text x="173.50" y="206.00" font-family="Liberation Sans" font-size="22" text-anchor="start" textLength="93.00" lengthAdjust="spacingAndGlyphs">2 <tspan font-size="25.5" dy="1.6">&lt;</tspan><tspan dy="-1.6"> z </tspan><tspan font-size="25.5" dy="1.6">&lt;</tspan><tspan dy="-1.6"> 3</tspan></text>
<text x="274.00" y="206.00" font-family="Liberation Serif" font-size="23.6" text-anchor="start" textLength="212.20" lengthAdjust="spacingAndGlyphs">McLure et al. 2018</text>
</svg></body></html>
